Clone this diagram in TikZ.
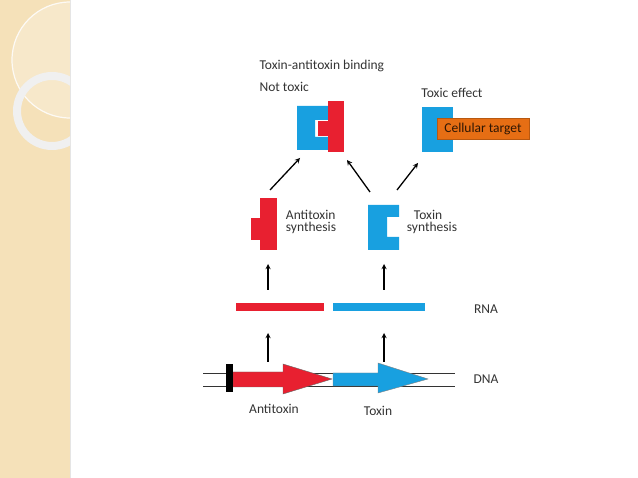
\documentclass[tikz,border=0pt]{standalone}
\usepackage{fontspec}
\setmainfont{Carlito}
\usetikzlibrary{positioning}
\definecolor{tared}{RGB}{232,32,48}
\definecolor{tablue}{RGB}{24,160,224}
\definecolor{taorange}{RGB}{230,110,20}
\definecolor{tabeige}{RGB}{245,225,185}
\tikzset{
  lbl/.style={font=\fontsize{13.5}{15}\selectfont, text=black!80, align=left},
  up/.style={->, >=stealth, line width=1.3pt},
  dna/.style={draw=black!80, line width=0.7pt}
}
\begin{document}
\begin{tikzpicture}[x=1pt,y=-1pt]
\useasboundingbox (0,0) rectangle (638,478);
% side strip
\fill[tabeige] (0,0) rectangle (70,478);
\draw[white!90!black] (70,0) -- (70,478);
\begin{scope}
\clip (0,0) rectangle (70,478);
\fill[white, opacity=0.25] (70,60) circle (58);
\draw[white!85!tabeige, line width=1.2pt] (70,60) circle (58);
\draw[white!88!gray, line width=8pt] (52,111) circle (35);
\end{scope}
% DNA
\coordinate (dnaL1) at (203,373); \coordinate (dnaR1) at (455,373);
\coordinate (dnaL2) at (203,386); \coordinate (dnaR2) at (455,386);
\draw[dna] (dnaL1) -- (dnaR1);
\draw[dna] (dnaL2) -- (dnaR2);
\fill[tared, draw=black!60] (233,372) -- (283,372) -- (283,364) -- (332,379) -- (283,394) -- (283,387) -- (233,387) -- cycle;
\fill[tablue, draw=black!50] (333,373) -- (378,373) -- (378,363) -- (428,379) -- (378,393) -- (378,386) -- (333,386) -- cycle;
\fill[black] (226,364) rectangle (233,392);
\node[lbl] (antiL) at (274,409) {Antitoxin};
\node[lbl] (toxL) at (378,411) {Toxin};
\node[lbl] (dnaT) at (486,379) {DNA};
% RNA
\fill[tared] (236,303) rectangle (324,311);
\fill[tablue] (333,303) rectangle (425,311);
\node[lbl] (rnaT) at (486,309) {RNA};
\coordinate (a1) at (268,362); \coordinate (a2) at (268,333);
\coordinate (b1) at (384,362); \coordinate (b2) at (384,333);
\draw[up] (a1) -- (a2);
\draw[up] (b1) -- (b2);
\coordinate (a3) at (268,290); \coordinate (a4) at (268,264);
\coordinate (b3) at (384,290); \coordinate (b4) at (384,264);
\draw[up] (a3) -- (a4);
\draw[up] (b3) -- (b4);
% synthesis
\fill[tared] (260,198) rectangle (277,250);
\fill[tared] (251,218) rectangle (260,240);
\node[lbl] (antiS) at (311,222) {Antitoxin\\[-3pt]synthesis};
\fill[tablue] (368,205) -- (399,205) -- (399,217) -- (387,217) -- (387,237) -- (399,237) -- (399,250) -- (368,250) -- cycle;
\node[lbl] (toxS) at (432,222) {\hspace*{7pt}Toxin\\[-3pt]synthesis};
\coordinate (c1) at (270,190); \coordinate (c2) at (300,158);
\coordinate (d1) at (370,192); \coordinate (d2) at (347,160);
\coordinate (e1) at (397,190); \coordinate (e2) at (418,163);
\draw[up] (c1) -- (c2);
\draw[up] (d1) -- (d2);
\draw[up] (e1) -- (e2);
% complex
\fill[tablue] (297,106) -- (328,106) -- (328,120) -- (315,120) -- (315,137) -- (328,137) -- (328,150) -- (297,150) -- cycle;
\fill[tared] (328,101) rectangle (344,152);
\fill[tared] (318,121) rectangle (328,136);
\node[lbl, anchor=west] (bindT) at (256,66) {Toxin-antitoxin binding};
\node[lbl, anchor=west] (notT) at (256,87) {Not toxic};
% toxic effect
\fill[tablue] (422,107) rectangle (453,152);
\node[lbl, fill=taorange, draw=taorange!80!black, line width=0.3pt, text=black!80!taorange, minimum width=92pt, minimum height=21pt, inner sep=0pt] (cellT) at (483,129) {Cellular target};
\node[lbl] (toxE) at (452,93) {Toxic effect};
\end{tikzpicture}
\end{document}
